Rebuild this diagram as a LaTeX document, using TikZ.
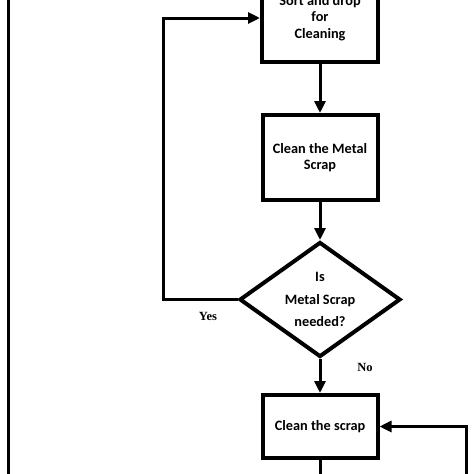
\documentclass[tikz,border=0pt]{standalone}
\usepackage{fontspec}
\setmainfont{Carlito}
\newfontfamily\lblfont{Liberation Serif}
\usetikzlibrary{arrows.meta,shapes.geometric}
\begin{document}
\begin{tikzpicture}[x=1pt,y=-1pt,
  box/.style={draw,line width=4pt,rectangle,inner sep=0pt,align=center,font=\fontsize{14.3}{16.5}\selectfont\bfseries},
  dia/.style={draw,line width=4pt,diamond,inner sep=0pt},
  dtext/.style={align=center,font=\fontsize{14.3}{22.5}\selectfont\bfseries,inner sep=0pt},
  conn/.style={line width=3pt},
  arr/.style={line width=3pt,-{Triangle[length=12pt,width=11pt]}},
  lbl/.style={font=\fontsize{12.5}{14}\selectfont\lblfont\bfseries,inner sep=0pt}]
\useasboundingbox (0,0) rectangle (474,474);
\clip (0,0) rectangle (474,474);
\fill[white] (0,0) rectangle (474,474);
% nodes
\node[box,minimum width=116pt,minimum height=88pt] (b1) at (320,18) {Sort and drop\\for\\Cleaning};
\node[box,minimum width=115pt,minimum height=85pt] (b2) at (320,157.5) {Clean the Metal\\Scrap};
\node[dia,minimum width=161pt,minimum height=115pt] (d) at (320,299.5) {};
\node[dtext] (dt) at (d.center) {Is\\Metal Scrap\\needed?};
\node[box,minimum width=115pt,minimum height=63pt] (b3) at (320,426.5) {Clean the scrap};
\node[lbl] (yes) at (208,316) {Yes};
\node[lbl] (no) at (365,367) {No};
% coordinates
\coordinate (yl) at (163,299.5);
\coordinate (bot) at (320,480);
\coordinate (rb) at (466,480);
\coordinate (lt) at (8,-5);
\coordinate (lb) at (8,480);
% connectors
\draw[arr] (b1.south) -- (b2.north);
\draw[arr] (b2.south) -- (d.north);
\draw[arr] (d.south) -- (b3.north);
\draw[arr] (d.west) -- (yl) |- (b1.west);
\draw[conn] (b3.south) -- (bot);
\draw[arr] (rb) |- (b3.east);
\draw[conn] (lt) -- (lb);
\end{tikzpicture}
\end{document}
